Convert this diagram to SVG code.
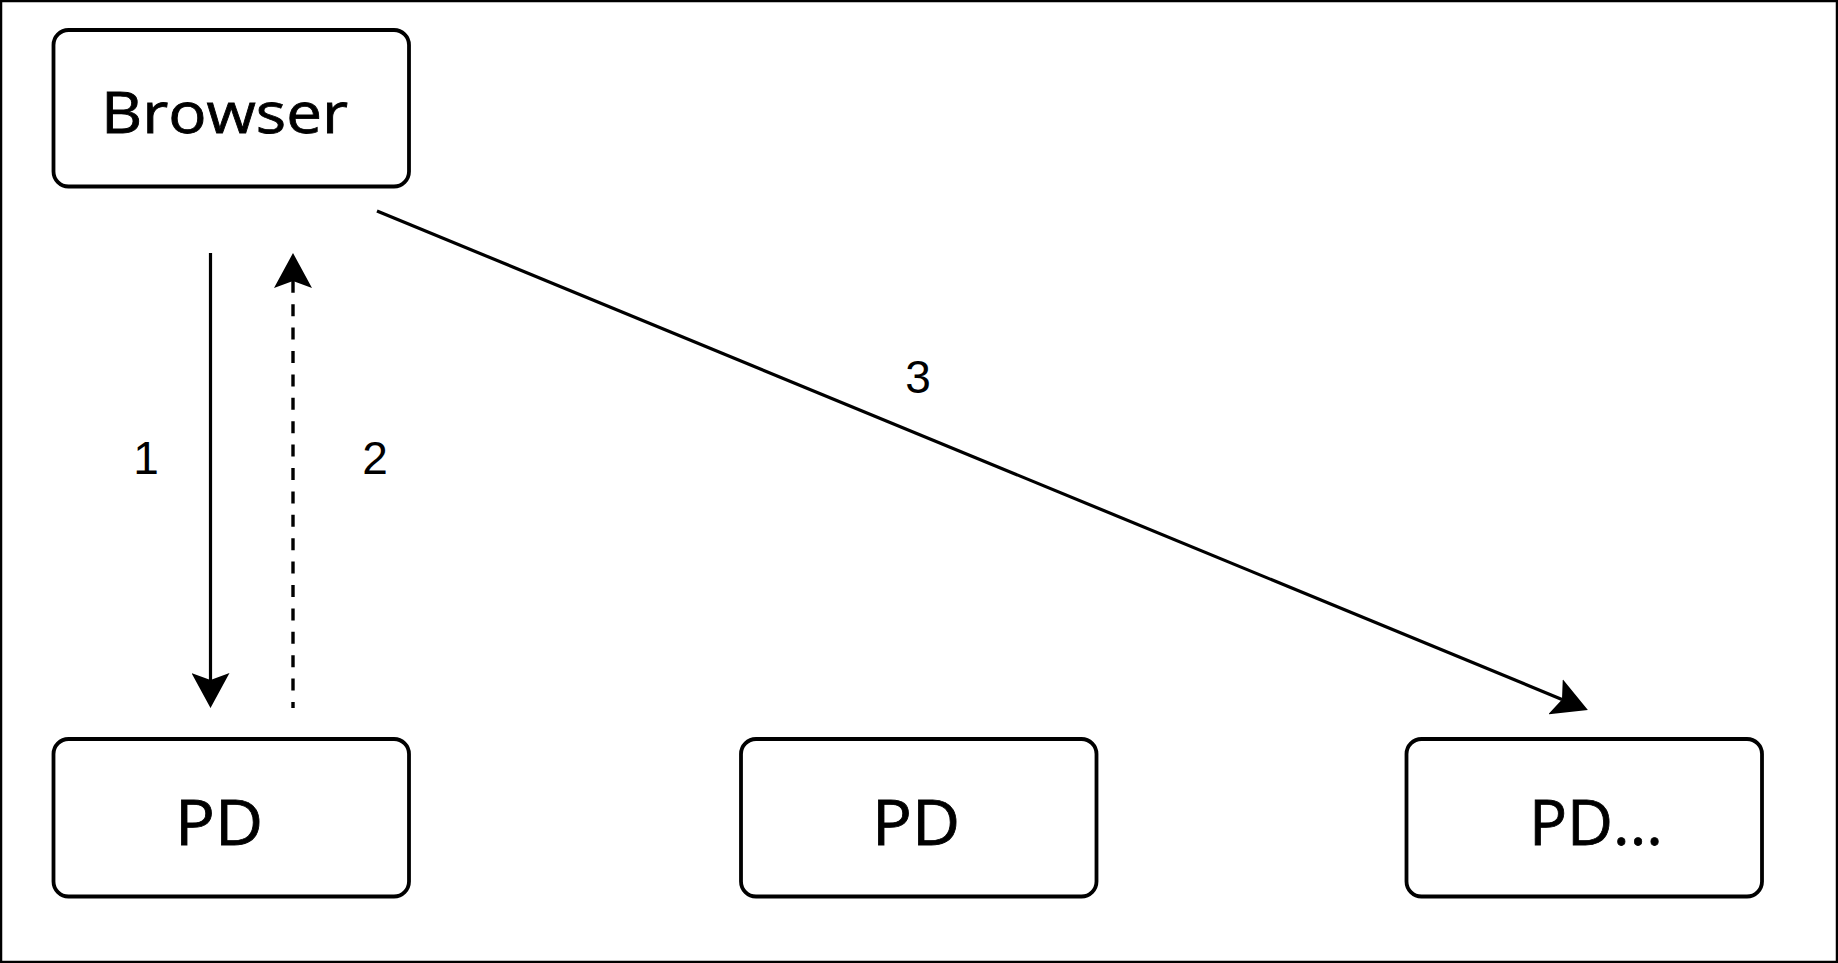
<svg xmlns="http://www.w3.org/2000/svg" width="1838" height="963" viewBox="0 0 1838 963">
<style>
.box{fill:#fff;stroke:#000;stroke-width:3.8}
.nt{font-family:"Open Sans","Noto Sans",sans-serif;fill:#000;stroke:#000;stroke-width:0.8}
.lbl{font-family:"Liberation Sans",Arial,sans-serif;font-size:46px;fill:#000;text-anchor:middle}
.edge{fill:none;stroke:#000;stroke-width:3.2}
.dash{stroke-width:3.4;stroke-dasharray:12 11.4;stroke-dashoffset:6}
</style>
<defs>
<marker id="arr" markerUnits="userSpaceOnUse" viewBox="0 0 35 38" markerWidth="35" markerHeight="38" refX="7" refY="19" orient="auto">
<path d="M0,0 L35,19 L0,38 L7,19 Z" fill="#000"/>
</marker>
</defs>
<rect x="0" y="0" width="1838" height="963" fill="#fff"/>
<rect x="1" y="1" width="1836" height="961" fill="none" stroke="#000" stroke-width="2.5"/>
<g id="browser">
<rect class="box" x="53.5" y="30" width="355.5" height="156.5" rx="15"/>
<text class="nt" x="101" y="133" font-size="56" textLength="247" lengthAdjust="spacingAndGlyphs">Browser</text>
</g>
<g id="pd1">
<rect class="box" x="53.5" y="739" width="355.5" height="157.5" rx="15"/>
<text class="nt" x="175" y="845" font-size="62" textLength="88" lengthAdjust="spacingAndGlyphs">PD</text>
</g>
<g id="pd2">
<rect class="box" x="741" y="739" width="355.5" height="157.5" rx="15"/>
<text class="nt" x="872" y="845" font-size="62" textLength="88" lengthAdjust="spacingAndGlyphs">PD</text>
</g>
<g id="pd3">
<rect class="box" x="1406.5" y="739" width="355.5" height="157.5" rx="15"/>
<text class="nt" x="1529" y="845" font-size="62" textLength="134" lengthAdjust="spacingAndGlyphs">PD...</text>
</g>
<g id="connectors">
<path class="edge" d="M210.5,253 L210.5,680" marker-end="url(#arr)"/>
<path class="edge dash" d="M293,708 L293,281" marker-end="url(#arr)"/>
<path class="edge" d="M377,211 L1562,699.4" marker-end="url(#arr)"/>
<text class="lbl" x="146" y="474">1</text>
<text class="lbl" x="375" y="474">2</text>
<text class="lbl" x="918" y="393">3</text>
</g>
</svg>
